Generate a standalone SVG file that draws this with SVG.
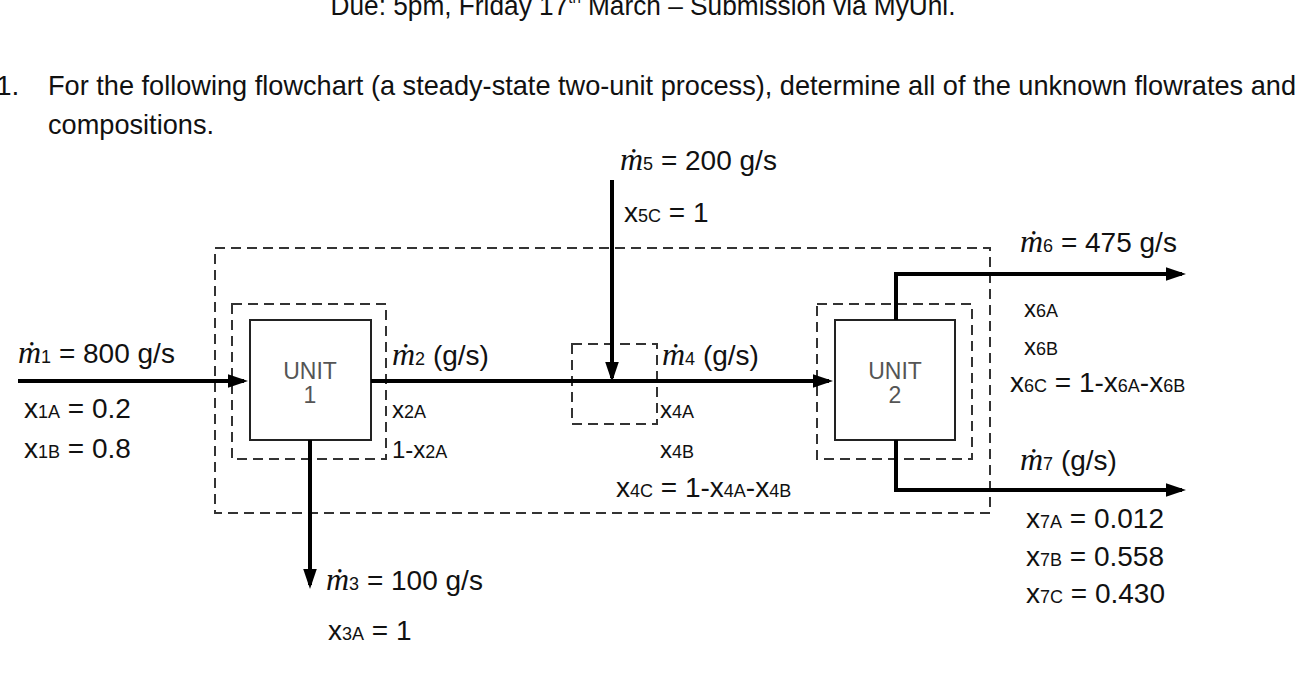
<svg xmlns="http://www.w3.org/2000/svg" width="1316" height="676" viewBox="0 0 1316 676">
<style>
.h{font-family:"Liberation Sans",Arial,sans-serif;font-size:28px;fill:#111}
.t{font-family:"Liberation Sans",Arial,sans-serif;font-size:28px;fill:#111}
.s{font-size:18px}
.m{font-family:"Liberation Serif",serif;font-style:italic;font-size:32px}
.u{font-family:"Liberation Sans",Arial,sans-serif;font-size:23px;fill:#555;text-anchor:middle}
.d{fill:none;stroke:#333;stroke-width:2;stroke-dasharray:10,6}
.box{fill:#fff;stroke:#222;stroke-width:2}
.ln{fill:none;stroke:#000;stroke-width:4}
</style>
<defs><marker id="a" markerWidth="5" markerHeight="4" refX="4" refY="2" orient="auto" markerUnits="strokeWidth"><path d="M0,0.3 L5,2 L0,3.7 z" fill="#000"/></marker></defs>
<rect width="1316" height="676" fill="#fff"/>
<text class="h" x="643" y="15" font-size="34" text-anchor="middle" textLength="625" lengthAdjust="spacingAndGlyphs">Due: 5pm, Friday 17<tspan dy="-12" font-size="16">th</tspan><tspan dy="12"> March – Submission via MyUni.</tspan></text>
<text class="h" x="-4" y="95">1.</text>
<text class="h" x="48" y="95" textLength="1248" lengthAdjust="spacingAndGlyphs">For the following flowchart (a steady-state two-unit process), determine all of the unknown flowrates and</text>
<text class="h" x="48" y="134" textLength="166" lengthAdjust="spacingAndGlyphs">compositions.</text>
<rect class="d" x="215" y="248" width="775" height="265"/>
<g id="unit1"><rect class="d" x="232" y="304" width="154" height="155"/><rect class="box" x="250" y="320" width="121" height="120"/><text class="u" x="310" y="379">UNIT</text><text class="u" x="310" y="403">1</text></g>
<g id="unit2"><rect class="d" x="817" y="304" width="155" height="155"/><rect class="box" x="835" y="320" width="120" height="120"/><text class="u" x="895" y="379">UNIT</text><text class="u" x="895" y="403">2</text></g>
<g id="mixer"><rect class="d" x="572" y="344" width="85" height="80"/></g>
<g id="connectors">
<path class="ln" d="M18,381 H244" marker-end="url(#a)"/>
<path class="ln" d="M371,381 H829" marker-end="url(#a)"/>
<path class="ln" d="M612,180 V378" marker-end="url(#a)"/>
<path class="ln" d="M310,440 V585" marker-end="url(#a)"/>
<path class="ln" d="M896,320 V274 H1182" marker-end="url(#a)"/>
<path class="ln" d="M896,440 V490 H1182" marker-end="url(#a)"/>
</g>
<g id="labels" class="t">
<text x="18" y="363"><tspan class="m">ṁ</tspan><tspan class="s">1</tspan> = 800 g/s</text>
<text x="24" y="418">x<tspan class="s">1A</tspan> = 0.2</text>
<text x="24" y="458">x<tspan class="s">1B</tspan> = 0.8</text>
<text x="392" y="365"><tspan class="m">ṁ</tspan><tspan class="s">2</tspan> (g/s)</text>
<text x="392" y="418" font-size="24">x<tspan class="s">2A</tspan></text>
<text x="392" y="458" font-size="24">1-x<tspan class="s">2A</tspan></text>
<text x="620" y="170"><tspan class="m">ṁ</tspan><tspan class="s">5</tspan> = 200 g/s</text>
<text x="624" y="222">x<tspan class="s">5C</tspan> = 1</text>
<text x="662" y="365"><tspan class="m">ṁ</tspan><tspan class="s">4</tspan> (g/s)</text>
<text x="660" y="418" font-size="24">x<tspan class="s">4A</tspan></text>
<text x="660" y="458" font-size="24">x<tspan class="s">4B</tspan></text>
<text x="616" y="497">x<tspan class="s">4C</tspan> = 1-x<tspan class="s">4A</tspan>-x<tspan class="s">4B</tspan></text>
<text x="1020" y="252"><tspan class="m">ṁ</tspan><tspan class="s">6</tspan> = 475 g/s</text>
<text x="1024" y="317" font-size="24">x<tspan class="s">6A</tspan></text>
<text x="1024" y="355" font-size="24">x<tspan class="s">6B</tspan></text>
<text x="1010" y="392">x<tspan class="s">6C</tspan> = 1-x<tspan class="s">6A</tspan>-x<tspan class="s">6B</tspan></text>
<text x="1020" y="470"><tspan class="m">ṁ</tspan><tspan class="s">7</tspan> (g/s)</text>
<text x="1026" y="528">x<tspan class="s">7A</tspan> = 0.012</text>
<text x="1026" y="566">x<tspan class="s">7B</tspan> = 0.558</text>
<text x="1026" y="603">x<tspan class="s">7C</tspan> = 0.430</text>
<text x="326" y="590"><tspan class="m">ṁ</tspan><tspan class="s">3</tspan> = 100 g/s</text>
<text x="328" y="640">x<tspan class="s">3A</tspan> = 1</text>
</g>
</svg>
